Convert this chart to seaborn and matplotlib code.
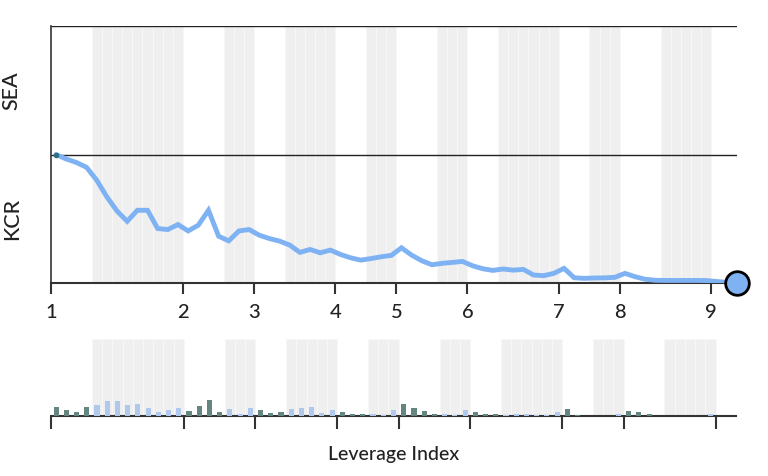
import numpy as np
import pandas as pd
import matplotlib
matplotlib.use("Agg")
import matplotlib.pyplot as plt
import seaborn as sns

sns.set_style("white")
plt.rcParams['font.family'] = ['Lato', 'DejaVu Sans']

# ---- data ----
kcr_values = [1.0, 0.965, 0.938, 0.90, 0.80, 0.67, 0.56, 0.48, 0.566, 0.566,
              0.424, 0.416, 0.455, 0.405, 0.45, 0.566, 0.364, 0.328, 0.405, 0.416,
              0.372, 0.346, 0.326, 0.295, 0.238, 0.261, 0.235, 0.256, 0.222, 0.196,
              0.178, 0.19, 0.204, 0.215, 0.274, 0.217, 0.173, 0.142, 0.153, 0.16,
              0.168, 0.134, 0.111, 0.098, 0.109, 0.10, 0.106, 0.062, 0.057, 0.075,
              0.114, 0.041, 0.036, 0.039, 0.04, 0.044, 0.075, 0.049, 0.029, 0.021,
              0.02, 0.02, 0.02, 0.02, 0.019, 0.012, 0.005, 0.0]
bar_values = [8.7, 5.7, 3.7, 8.7, 11, 15, 15, 11, 12.3, 7.7,
              4.3, 6.3, 8, 5, 10.3, 16.3, 4.3, 7, 2, 8,
              5.7, 3, 4.3, 7, 8.3, 9.3, 3, 6.3, 4.3, 2.3,
              2.3, 1.7, 1, 6.3, 12, 8.3, 5, 2, 1.7, 1,
              6.3, 3.7, 2, 2, 0.7, 2.3, 2.3, 0.7, 1.3, 4,
              6.7, 1, 0, 0, 0, 2.3, 5, 3.7, 2, 0,
              0, 0, 0, 0, 1.7, 0, 0]
group_starts = [0, 13, 20, 28, 34, 41, 50, 56, 65]
tick_labels = ["1", "2", "3", "4", "5", "6", "7", "8", "9"]
shaded_ranges = [(4, 12), (17, 19), (23, 27), (31, 33), (38, 40), (44, 49), (53, 55), (60, 64)]
band_labels = ["KCR", "SEA"]
x_label = "Leverage Index"

# ---- derived ----
shaded = set()
for a, b in shaded_ranges:
    shaded.update(range(a, b + 1))
line_df = pd.DataFrame({"idx": np.arange(len(kcr_values)), "val": kcr_values})
bar_df = pd.DataFrame({"idx": np.arange(len(bar_values)), "val": bar_values,
                       "kind": ["shaded" if i in shaded else "plain" for i in range(len(bar_values))]})
tick_pos = [g - 0.5 for g in group_starts]

W, H = 768, 476
fig = plt.figure(figsize=(W / 100, H / 100), dpi=100)

def fx(px):
    return px / W

def fy(py):
    return 1 - py / H

shade_col = "#efefef"
sep_col = "#f8f8f8"
line_col = "#7eb2f3"
teal = "#5f8b85"
blue = "#a6c6f5"
axis_col = "#333333"
text_col = "#222222"

# ---- top panel ----
axt = fig.add_axes([fx(51), fy(283), fx(736.7) - fx(51), fy(26) - fy(283)])
for i in sorted(shaded):
    axt.axvspan(i - 0.5, i + 0.5, facecolor=shade_col, edgecolor=sep_col, lw=0.6, zorder=0)
axt.axhline(2, color=text_col, lw=1.0, zorder=2)
axt.axhline(1, color=text_col, lw=1.0, zorder=2)
sns.lineplot(data=line_df, x="idx", y="val", ax=axt, color=line_col, lw=3.5,
             zorder=3, solid_joinstyle="miter")
axt.plot(line_df["idx"].iloc[0], line_df["val"].iloc[0], "o", ms=3, color="#2f6f80", zorder=4)
axt.plot(line_df["idx"].iloc[-1], line_df["val"].iloc[-1], "o", ms=17, mfc=line_col,
         mec="black", mew=2, zorder=5, clip_on=False)
axt.set_xlim(-0.5, len(kcr_values) - 1)
axt.set_ylim(0, 2)
axt.set_xticks(tick_pos)
axt.set_xticklabels(tick_labels, fontsize=14.5, color=text_col, fontweight="medium")
axt.set_yticks([0.5, 1.5])
axt.set_yticklabels(band_labels, rotation=90, va="center", fontsize=15.5, color=text_col,
                    fontweight="medium")
axt.tick_params(axis="x", length=8, width=1.5, color=axis_col, pad=7, direction="out", bottom=True)
axt.tick_params(axis="y", length=0, pad=21)
axt.set_xlabel("")
axt.set_ylabel("")
for s in ["top", "right"]:
    axt.spines[s].set_visible(False)
axt.spines["left"].set_color(axis_col)
axt.spines["left"].set_linewidth(1.2)
axt.spines["bottom"].set_color(axis_col)
axt.spines["bottom"].set_linewidth(1.5)

# ---- bottom panel ----
axb = fig.add_axes([fx(51), fy(416), fx(736) - fx(51), fy(339) - fy(416)])
for i in sorted(shaded):
    axb.axvspan(i - 0.5, i + 0.5, facecolor=shade_col, edgecolor=sep_col, lw=0.6, zorder=0)
sns.barplot(data=bar_df, x="idx", y="val", hue="kind", palette={"plain": teal, "shaded": blue},
            dodge=False, width=0.5, legend=False, ax=axb, zorder=3, linewidth=0)
axb.set_xlim(-0.5, len(bar_values) - 0.5)
axb.set_ylim(0, 77)
axb.set_xticks(tick_pos)
axb.set_xticklabels([])
axb.set_yticks([])
axb.tick_params(axis="x", length=9, width=1.5, color=axis_col, direction="out", bottom=True)
axb.set_ylabel("")
axb.set_xlabel(x_label, fontsize=14, color=text_col, labelpad=9, fontweight="medium")
for s in ["top", "right", "left"]:
    axb.spines[s].set_visible(False)
axb.spines["bottom"].set_color(axis_col)
axb.spines["bottom"].set_linewidth(1.5)

fig.savefig("out.png", dpi=100, facecolor="white")
